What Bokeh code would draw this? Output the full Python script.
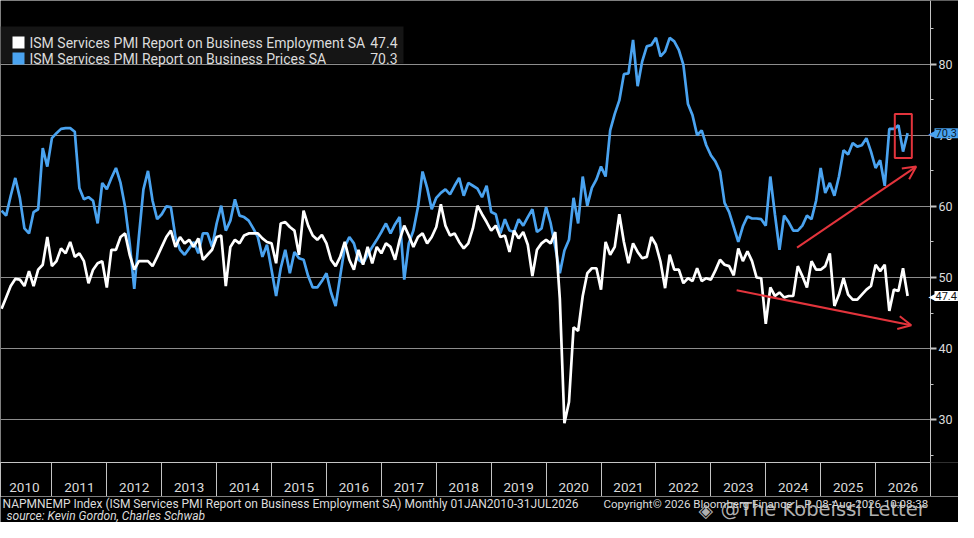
from bokeh.plotting import figure
from bokeh.layouts import column
from bokeh.models import (Range1d, FixedTicker, Label, BoxAnnotation, Arrow, OpenHead,
                          CustomJSTickFormatter)
from bokeh.embed import file_html
from bokeh.resources import INLINE

# ---------------- data (monthly, Jan 2010 - Jul 2026) ----------------
YEARS = list(range(2010, 2027))

EMP_2010 = [45.6, 47.2, 48.8, 49.8, 49.7, 48.8, 50.9, 48.8, 51.1, 51.8, 55.7, 51.6]
EMP_2011 = [52.3, 54.1, 53.4, 55.0, 52.9, 53.4, 52.3, 49.2, 51.1, 52.0, 52.3, 48.6]
EMP_2012 = [53.9, 53.9, 55.7, 56.2, 53.2, 51.1, 52.3, 52.3, 52.3, 51.6, 52.9, 54.3]
EMP_2013 = [55.7, 56.6, 54.3, 55.7, 54.8, 55.3, 54.3, 55.5, 52.5, 53.2, 53.9, 55.7]
EMP_2014 = [55.9, 48.8, 54.3, 55.3, 54.8, 55.9, 56.2, 56.2, 56.2, 55.5, 55.0, 54.8]
EMP_2015 = [52.0, 57.6, 57.8, 57.1, 56.6, 53.2, 59.4, 57.3, 55.9, 55.3, 56.0, 54.8]
EMP_2016 = [52.5, 51.6, 52.9, 55.0, 52.5, 51.1, 53.9, 51.8, 54.3, 52.0, 54.3, 53.4]
EMP_2017 = [54.8, 54.3, 52.5, 55.3, 57.3, 55.9, 54.3, 55.7, 56.2, 54.8, 55.7, 57.1]
EMP_2018 = [60.3, 57.3, 55.9, 56.2, 55.0, 54.1, 54.8, 56.9, 60.1, 58.9, 57.8, 56.6]
EMP_2019 = [57.3, 55.7, 55.9, 53.6, 56.6, 55.5, 56.4, 54.6, 50.2, 53.9, 54.8, 55.3]
EMP_2020 = [54.8, 56.4, 47.0, 29.5, 32.5, 43.0, 42.5, 47.4, 50.6, 51.3, 51.3, 48.3]
EMP_2021 = [55.0, 53.2, 54.3, 58.9, 55.0, 52.0, 54.8, 53.6, 52.7, 52.9, 55.7, 54.6]
EMP_2022 = [52.2, 48.5, 53.2, 51.1, 51.1, 49.2, 49.9, 49.5, 51.3, 49.5, 49.9, 49.7]
EMP_2023 = [51.0, 52.5, 51.8, 51.6, 50.3, 54.1, 52.3, 53.7, 52.3, 50.0, 49.9, 43.5]
EMP_2024 = [48.6, 47.4, 47.9, 47.2, 47.4, 47.4, 51.6, 50.2, 48.6, 52.3, 51.1, 51.1]
EMP_2025 = [51.6, 53.4, 46.0, 47.6, 49.9, 47.6, 46.9, 46.9, 47.6, 48.3, 48.8, 51.8]
EMP_2026 = [50.9, 51.8, 45.3, 48.3, 48.1, 51.3, 47.4]

PRC_2010 = [59.4, 58.7, 61.5, 64.0, 61.2, 56.9, 56.2, 59.2, 59.6, 68.2, 65.6, 69.6]
PRC_2011 = [70.3, 70.9, 71.0, 71.0, 70.5, 62.6, 61.0, 61.3, 60.8, 57.6, 63.3, 62.4]
PRC_2012 = [64.0, 65.4, 63.3, 59.9, 54.8, 48.4, 55.7, 62.4, 65.0, 60.8, 58.2, 58.9]
PRC_2013 = [60.0, 59.9, 55.7, 53.9, 53.2, 54.1, 55.0, 53.4, 56.2, 56.2, 54.3, 57.6]
PRC_2014 = [60.1, 56.6, 58.0, 61.0, 58.7, 58.5, 58.0, 56.9, 55.7, 52.9, 54.6, 51.1]
PRC_2015 = [47.4, 51.3, 53.9, 50.6, 53.6, 52.7, 52.5, 50.2, 48.6, 48.6, 49.5, 50.6]
PRC_2016 = [47.9, 46.0, 50.2, 54.3, 55.7, 54.8, 52.5, 52.0, 53.2, 54.3, 55.3, 56.4]
PRC_2017 = [57.6, 56.2, 57.5, 58.5, 49.7, 54.8, 56.6, 59.9, 64.9, 62.6, 59.6, 61.2]
PRC_2018 = [61.9, 62.4, 61.7, 62.9, 64.0, 61.5, 63.3, 62.9, 62.5, 61.3, 62.9, 59.2]
PRC_2019 = [58.9, 56.2, 58.2, 56.6, 56.4, 58.2, 57.3, 58.5, 59.6, 56.4, 56.9, 59.9]
PRC_2020 = [57.6, 54.3, 50.6, 53.8, 55.3, 61.2, 57.6, 64.2, 60.1, 62.6, 63.8, 65.6]
PRC_2021 = [64.2, 70.7, 73.0, 74.9, 78.6, 78.7, 83.4, 76.9, 80.4, 82.5, 82.7, 83.7]
PRC_2022 = [81.1, 81.8, 83.7, 83.2, 82.0, 79.9, 74.4, 72.8, 70.0, 70.7, 68.6, 67.2]
PRC_2023 = [66.3, 64.9, 60.5, 59.2, 57.1, 55.0, 57.2, 58.6, 58.3, 58.3, 58.2, 57.3]
PRC_2024 = [64.2, 58.9, 53.9, 58.7, 57.8, 56.6, 56.6, 57.3, 58.7, 58.2, 60.8, 65.4]
PRC_2025 = [61.9, 63.3, 61.5, 64.2, 67.9, 67.3, 68.9, 68.4, 68.6, 69.6, 67.7, 65.4]
PRC_2026 = [66.5, 62.9, 70.9, 70.9, 71.4, 67.7, 70.3]

employment = (EMP_2010 + EMP_2011 + EMP_2012 + EMP_2013 + EMP_2014 + EMP_2015 + EMP_2016 +
              EMP_2017 + EMP_2018 + EMP_2019 + EMP_2020 + EMP_2021 + EMP_2022 + EMP_2023 +
              EMP_2024 + EMP_2025 + EMP_2026)
prices = (PRC_2010 + PRC_2011 + PRC_2012 + PRC_2013 + PRC_2014 + PRC_2015 + PRC_2016 +
          PRC_2017 + PRC_2018 + PRC_2019 + PRC_2020 + PRC_2021 + PRC_2022 + PRC_2023 +
          PRC_2024 + PRC_2025 + PRC_2026)
# monthly observations plotted at month end (fractional year)
months = [2010 + (k + 1) / 12 for k in range(len(employment))]

SERIES_NAMES = ["ISM Services PMI Report on Business Employment SA",
                "ISM Services PMI Report on Business Prices SA"]
LAST_EMP = employment[-1]
LAST_PRC = prices[-1]

Y_TICKS = [30, 40, 50, 60, 70, 80]
Y_MINOR = [25, 35, 45, 55, 65, 75, 85]
AXIS_END = YEARS[-1] + 1          # right value axis sits at the end of the last year

FOOTER = "NAPMNEMP Index (ISM Services PMI Report on Business Employment SA) Monthly 01JAN2010-31JUL2026"
COPYRIGHT = "Copyright\u00a9 2026 Bloomberg Finance L.P.      08-Aug-2026 10:08:38"
SOURCE = "source: Kevin Gordon, Charles Schwab"
WATERMARK = "@The Kobeissi Letter"

BLUE = "#4aa3f0"
WHITE = "#ffffff"
RED = "#e3343c"
AXIS = "#c4c4c4"
TXT = "#dcdcdc"
FONT = "Roboto"

W = 958
FRAME_H = 462
BOTTOM = 34
FOOT_H = 26

# ---------------- main figure ----------------
p = figure(width=W, height=FRAME_H + BOTTOM, output_backend="svg", toolbar_location=None,
           x_range=Range1d(2010.064, 2027.51), y_range=Range1d(23.99, 88.95),
           y_axis_location="right",
           background_fill_color="black", border_fill_color="black",
           min_border_left=0, min_border_top=0, min_border_right=0,
           min_border_bottom=BOTTOM)
p.outline_line_color = None

# bottom axis: year labels centred in each year, separators at year boundaries
xa = p.xaxis[0]
xa.ticker = FixedTicker(ticks=[y + 0.5 for y in YEARS], minor_ticks=YEARS + [AXIS_END])
xa.formatter = CustomJSTickFormatter(code="return String(Math.floor(tick))")
xa.bounds = (YEARS[0], AXIS_END)
xa.major_tick_line_color = None
xa.major_tick_out = 0
xa.major_tick_in = 0
xa.minor_tick_line_color = AXIS
xa.minor_tick_out = 34
xa.minor_tick_in = 0
xa.axis_line_color = AXIS
xa.major_label_standoff = -14
xa.major_label_text_color = TXT
xa.major_label_text_font = FONT
xa.major_label_text_font_size = "13.5px"

# right value axis, pinned at the end of the time axis
ya = p.yaxis[0]
ya.fixed_location = AXIS_END
ya.ticker = FixedTicker(ticks=Y_TICKS, minor_ticks=Y_MINOR)
ya.axis_line_color = AXIS
ya.major_tick_line_color = AXIS
ya.major_tick_line_width = 2
ya.major_tick_out = 6
ya.major_tick_in = 0
ya.minor_tick_line_color = AXIS
ya.minor_tick_out = 3
ya.minor_tick_in = 0
ya.major_label_standoff = 2
ya.major_label_text_color = TXT
ya.major_label_text_font = FONT
ya.major_label_text_font_size = "12.5px"

p.xgrid.grid_line_color = None
p.ygrid.grid_line_color = "#8d8d8d"
p.ygrid.grid_line_width = 1
# grid stops at the value axis
p.add_layout(BoxAnnotation(left=AXIS_END, fill_color="black", fill_alpha=1,
                           line_color=None, level="underlay"))

# ---------------- series ----------------
p.line(months, prices, line_color=BLUE, line_width=2.7)
p.line(months, employment, line_color=WHITE, line_width=2.7)

# ---------------- red annotations ----------------
p.add_layout(Arrow(end=OpenHead(size=13, line_color=RED, line_width=2),
                   x_start=2024.57, y_start=54.2, x_end=2026.74, y_end=65.6,
                   line_color=RED, line_width=2))
p.add_layout(Arrow(end=OpenHead(size=13, line_color=RED, line_width=2),
                   x_start=2023.47, y_start=48.2, x_end=2026.65, y_end=43.3,
                   line_color=RED, line_width=2))
p.add_layout(BoxAnnotation(left=2026.35, right=2026.66, bottom=66.8, top=73.0,
                           fill_alpha=0, line_color=RED, line_alpha=1, line_width=2))

# ---------------- legend (screen units, from frame bottom-left) ----------------
p.add_layout(BoxAnnotation(left=0, right=403, top=FRAME_H - 26, bottom=FRAME_H - 63,
                           left_units="screen", right_units="screen",
                           top_units="screen", bottom_units="screen",
                           fill_color="#151515", fill_alpha=1, line_color=None))
for i, (name, col, last) in enumerate(zip(SERIES_NAMES, [WHITE, BLUE], [LAST_EMP, LAST_PRC])):
    yc = FRAME_H - 42 - 16 * i
    p.add_layout(BoxAnnotation(left=12, right=24, top=yc + 6, bottom=yc - 6,
                               left_units="screen", right_units="screen",
                               top_units="screen", bottom_units="screen",
                               fill_color=col, fill_alpha=1, line_color=None))
    p.add_layout(Label(x=29, y=yc, x_units="screen", y_units="screen", text=name,
                       text_color=TXT, text_font=FONT, text_font_size="14px",
                       text_baseline="middle"))
    p.add_layout(Label(x=397, y=yc, x_units="screen", y_units="screen", text=f"{last:.1f}",
                       text_color=TXT, text_font=FONT, text_font_size="14px",
                       text_baseline="middle", text_align="right"))

# ---------------- last value tags on the value axis ----------------
for last, bg, fg in [(LAST_PRC, BLUE, "#0b1a2b"), (LAST_EMP, WHITE, "#111111")]:
    p.add_layout(Label(x=AXIS_END, y=last, x_offset=-2, text="\u25c0",
                       text_color=bg, text_font="DejaVu Sans", text_font_size="10px",
                       text_baseline="middle", text_align="left"))
    p.add_layout(Label(x=AXIS_END, y=last, x_offset=4, text=f"{last:.1f}",
                       text_color=fg, text_font=FONT, text_font_size="11px",
                       text_baseline="middle", text_align="left",
                       background_fill_color=bg, padding=1))

# ---------------- footer strip ----------------
f = figure(width=W, height=FOOT_H, output_backend="svg", toolbar_location=None,
           x_range=Range1d(0, W), y_range=Range1d(0, FOOT_H),
           x_axis_location=None, y_axis_location=None,
           background_fill_color="black", border_fill_color="black",
           min_border_left=0, min_border_top=0, min_border_right=0, min_border_bottom=0)
f.outline_line_color = None
f.xgrid.visible = False
f.ygrid.visible = False
f.add_layout(Label(x=2, y=19, text=FOOTER, text_color=TXT, text_font=FONT,
                   text_font_size="12px", text_baseline="middle"))
f.add_layout(Label(x=603, y=19, text=COPYRIGHT, text_color=TXT, text_font=FONT,
                   text_font_size="11.5px", text_baseline="middle"))
f.add_layout(Label(x=6, y=7, text=SOURCE, text_color=TXT, text_font=FONT,
                   text_font_size="12px", text_font_style="italic", text_baseline="middle"))
f.add_layout(Label(x=698, y=13, text="\u25c8", text_color="#d0d0d0", text_alpha=0.85,
                   text_font="DejaVu Sans", text_font_size="19px", text_baseline="middle"))
f.add_layout(Label(x=720, y=13, text=WATERMARK, text_color="#d0d0d0", text_alpha=0.85,
                   text_font="DejaVu Sans", text_font_size="19.5px", text_baseline="middle"))

page = column(p, f, spacing=0)
open("out.html", "w").write(file_html(page, INLINE))
